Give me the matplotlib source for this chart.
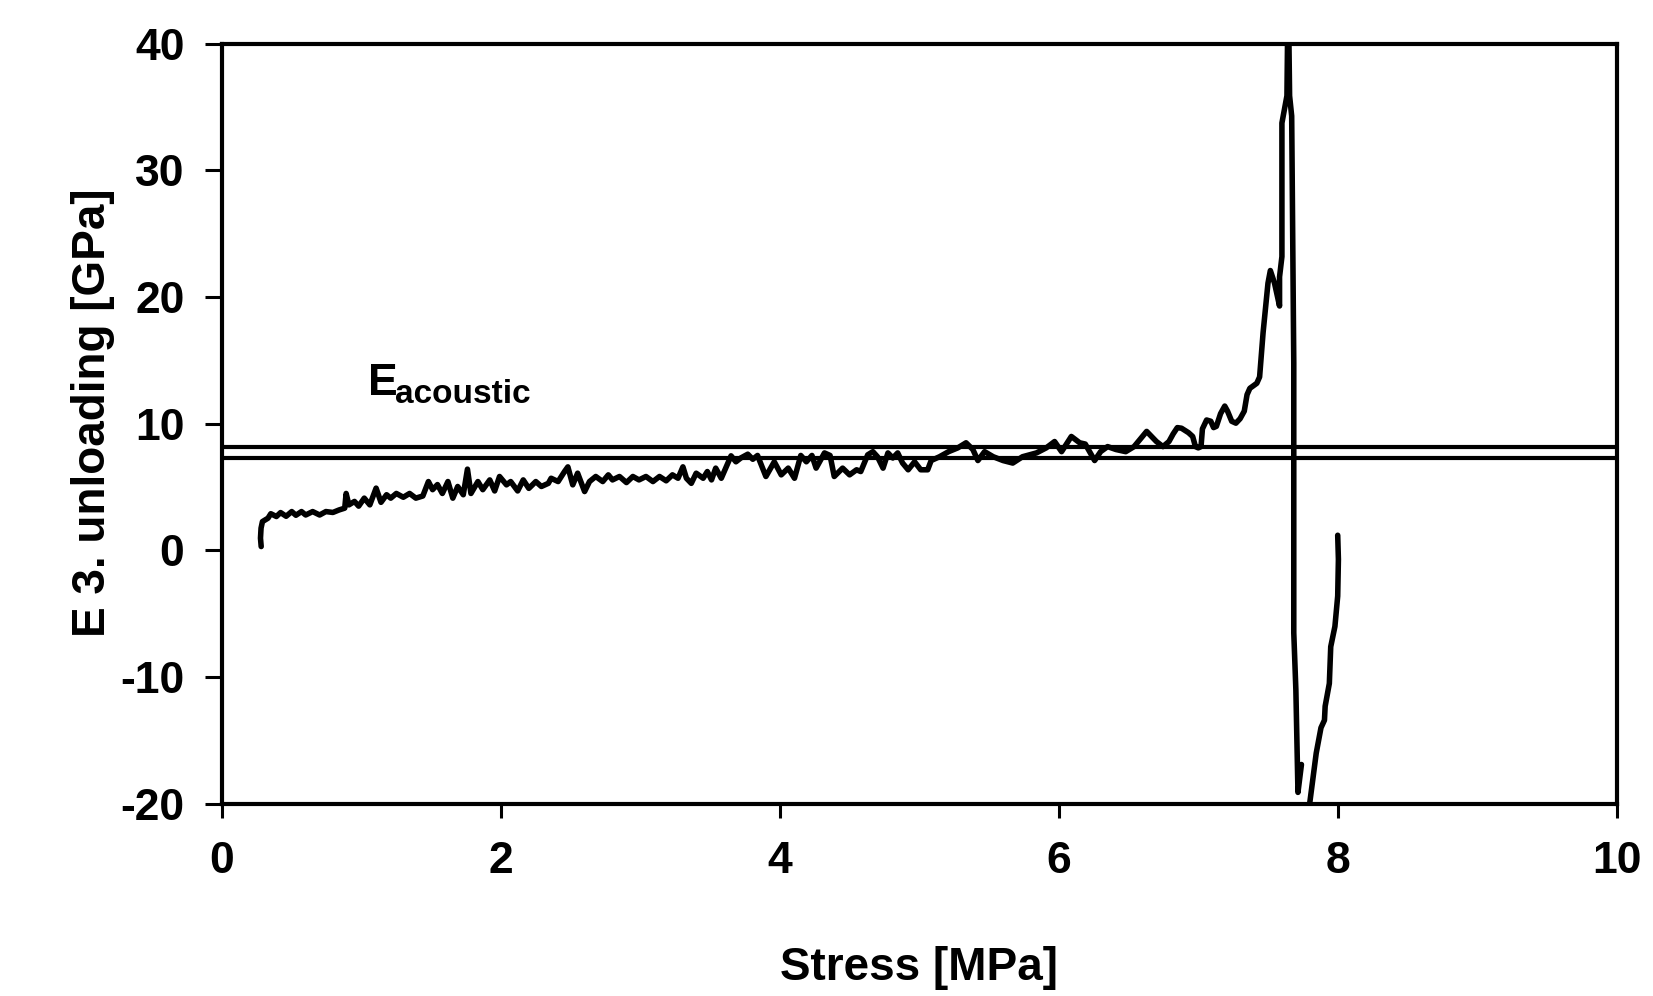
import numpy as np
import matplotlib
matplotlib.use("Agg")
import matplotlib.pyplot as plt

plt.rcParams['font.family'] = ['Liberation Sans', 'DejaVu Sans']
plt.rcParams['font.weight'] = 'bold'
plt.rcParams['axes.unicode_minus'] = False

# stress [MPa] and E 3. unloading [GPa] (NaN = gap in the record)
stress_a = [0.281, 0.276, 0.280, 0.290, 0.33, 0.35, 0.39, 0.42, 0.46, 0.50, 0.53, 0.57, 0.60, 0.65,
            0.70, 0.745, 0.795, 0.84, 0.88, 0.89, 0.91, 0.95, 0.98, 1.02, 1.06, 1.105, 1.14, 1.18,
            1.21, 1.25, 1.30, 1.345, 1.39, 1.44, 1.48, 1.51, 1.545, 1.58, 1.62, 1.655, 1.69, 1.73,
            1.76, 1.785, 1.835, 1.87, 1.92, 1.955, 1.99, 2.04, 2.07, 2.12, 2.16, 2.20, 2.25, 2.29, 2.34]
modulus_a = [0.31, 0.97, 1.76, 2.28, 2.55, 2.9, 2.68, 2.99, 2.7, 3.07, 2.78, 3.07, 2.8, 3.07,
             2.8, 3.07, 3.0, 3.2, 3.34, 4.5, 3.6, 3.87, 3.5, 4.13, 3.6, 4.92, 3.8, 4.4,
             4.13, 4.5, 4.2, 4.5, 4.13, 4.3, 5.44, 4.8, 5.2, 4.5, 5.44, 4.13, 5.05, 4.4,
             6.42, 4.5, 5.44, 4.8, 5.57, 4.7, 5.84, 5.18, 5.44, 4.7, 5.57, 4.9, 5.44, 5.05, 5.3]

stress_b = [2.36, 2.41, 2.456, 2.48, 2.515, 2.55, 2.60, 2.635, 2.68, 2.73, 2.77, 2.80, 2.85, 2.90,
            2.946, 2.99, 3.04, 3.09, 3.137, 3.185, 3.23, 3.27, 3.305, 3.33, 3.365, 3.40, 3.45, 3.48,
            3.51, 3.54, 3.58, 3.616, 3.65, 3.685, 3.72, 3.77, 3.806, 3.84, 3.90, 3.96, 4.01, 4.06,
            4.105, 4.15, 4.19, 4.23, 4.26, 4.32, 4.36, 4.39, 4.45, 4.50]
modulus_b = [5.7, 5.44, 6.23, 6.6, 5.18, 6.1, 4.65, 5.44, 5.84, 5.44, 5.97, 5.57, 5.84, 5.36,
             5.84, 5.57, 5.84, 5.44, 5.84, 5.5, 5.97, 5.7, 6.6, 5.7, 5.3, 6.1, 5.7, 6.23,
             5.57, 6.5, 5.7, 6.6, 7.47, 7.0, 7.3, 7.6, 7.2, 7.5, 5.84, 7.0, 5.97, 6.5,
             5.7, 7.5, 7.0, 7.5, 6.5, 7.7, 7.5, 5.84, 6.5, 5.97]

stress_c = [4.55, 4.58, 4.63, 4.667, 4.70, 4.74, 4.775, 4.81, 4.845, 4.88, 4.92, 4.966, 5.01, 5.06,
            5.085, 5.145, 5.21, 5.276, 5.335, 5.384, 5.42, 5.468, 5.53, 5.60, 5.67, 5.74, 5.84, 5.91,
            5.97, 6.02, 6.09, 6.15, 6.19, 6.257, 6.30, 6.35, 6.41, 6.48, 6.54, 6.63, 6.70, 6.747]
modulus_c = [6.37, 6.23, 7.55, 7.8, 7.4, 6.5, 7.7, 7.3, 7.7, 6.9, 6.37, 7.0, 6.37, 6.37,
             7.1, 7.4, 7.8, 8.1, 8.5, 7.97, 7.1, 7.8, 7.4, 7.1, 6.9, 7.4, 7.7, 8.1,
             8.6, 7.8, 9.0, 8.5, 8.4, 7.1, 7.8, 8.2, 7.97, 7.8, 8.2, 9.4, 8.6, 8.2]

stress_d = [6.79, 6.82, 6.85, 6.88, 6.93, 6.96, 6.98, 7.00, 7.02, 7.03, 7.06, 7.09, 7.11, 7.13,
            7.16, 7.19, 7.21, 7.24, 7.27, 7.30, 7.33, 7.35, 7.37, 7.42, 7.44, 7.465, 7.50, 7.517,
            7.547, 7.583, 7.583, 7.60, 7.60, 7.636, 7.645, 7.655, 7.67, 7.685, 7.685, 7.70, 7.715, 7.74]
modulus_d = [8.6, 9.2, 9.7, 9.65, 9.3, 9.0, 8.2, 8.1, 8.2, 9.6, 10.3, 10.2, 9.7, 9.8,
             10.8, 11.4, 11.0, 10.2, 10.05, 10.4, 11.0, 12.3, 12.8, 13.2, 13.7, 17.2, 21.1, 22.1,
             21.1, 19.3, 21.6, 23.2, 33.75, 35.9, 45.0, 35.9, 34.3, 14.8, -6.5, -11.0, -19.1, -16.9]

stress_e = [7.795, 7.80, 7.846, 7.88, 7.905, 7.91, 7.94, 7.95, 7.98, 8.00, 8.005, 8.00]
modulus_e = [-20.5, -19.9, -16.0, -14.0, -13.4, -12.3, -10.5, -7.6, -6.0, -3.6, -0.7, 1.2]

# acoustic modulus band
e_acoustic = [8.2, 7.3]

x_ticks = [0, 2, 4, 6, 8, 10]
y_ticks = [-20, -10, 0, 10, 20, 30, 40]

stress = stress_a + stress_b + stress_c + stress_d + [np.nan] + stress_e
modulus = modulus_a + modulus_b + modulus_c + modulus_d + [np.nan] + modulus_e

fig = plt.figure(figsize=(16.53, 9.96), dpi=100)
ax = fig.add_axes([0.1343, 0.193, 0.8437, 0.763])

ax.plot(stress, modulus, color='black', lw=4.0, solid_joinstyle='round', solid_capstyle='round')
for e in e_acoustic:
    ax.axhline(e, color='black', lw=3.0)

# label for the acoustic band, E with a subscript
ax.text(1.045, 12.24, 'E', fontsize=32, fontweight='bold', va='baseline')
ax.text(1.244, 11.63, 'acoustic', fontsize=24, fontweight='bold', va='baseline')

ax.set_xlim(0, 10)
ax.set_ylim(-20, 40)
ax.set_xticks(x_ticks)
ax.set_yticks(y_ticks)
ax.tick_params(axis='y', direction='out', length=12, width=2.2, pad=15, labelsize=32)
ax.tick_params(axis='x', direction='out', length=10, width=2.2, pad=17, labelsize=32)
for s in ax.spines.values():
    s.set_linewidth(3.0)
    s.set_zorder(5)

ax.set_xlabel('Stress [MPa]', fontsize=33, fontweight='bold')
ax.set_ylabel('E 3. unloading [GPa]', fontsize=33, fontweight='bold')
ax.xaxis.set_label_coords(0.5, -0.187)
ax.yaxis.set_label_coords(-0.077, 0.514)

fig.savefig('out.png', dpi=100)
